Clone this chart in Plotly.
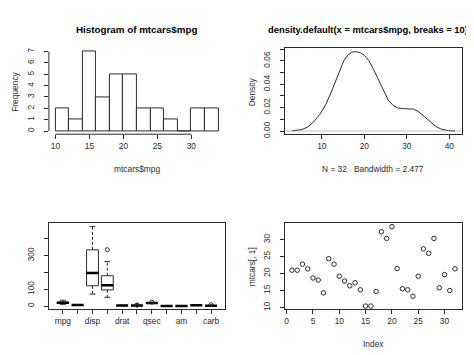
import numpy as np
import plotly.graph_objects as go

# ---- data: mtcars ----
mpg = [21.0, 21.0, 22.8, 21.4, 18.7, 18.1, 14.3, 24.4, 22.8, 19.2, 17.8, 16.4, 17.3, 15.2, 10.4, 10.4,
       14.7, 32.4, 30.4, 33.9, 21.5, 15.5, 15.2, 13.3, 19.2, 27.3, 26.0, 30.4, 15.8, 19.7, 15.0, 21.4]
cyl = [6, 6, 4, 6, 8, 6, 8, 4, 4, 6, 6, 8, 8, 8, 8, 8, 8, 4, 4, 4, 4, 8, 8, 8, 8, 4, 4, 4, 8, 6, 8, 4]
disp = [160, 160, 108, 258, 360, 225, 360, 146.7, 140.8, 167.6, 167.6, 275.8, 275.8, 275.8, 472, 460,
        440, 78.7, 75.7, 71.1, 120.1, 318, 304, 350, 400, 79, 120.3, 95.1, 351, 145, 301, 121]
hp = [110, 110, 93, 110, 175, 105, 245, 62, 95, 123, 123, 180, 180, 180, 205, 215, 230, 66, 52, 65,
      97, 150, 150, 245, 175, 66, 91, 113, 264, 175, 335, 109]
drat = [3.90, 3.90, 3.85, 3.08, 3.15, 2.76, 3.21, 3.69, 3.92, 3.92, 3.92, 3.07, 3.07, 3.07, 2.93, 3.00,
        3.23, 4.08, 4.93, 4.22, 3.70, 2.76, 3.15, 3.73, 3.08, 4.08, 4.43, 3.77, 4.22, 3.62, 3.54, 4.11]
wt = [2.620, 2.875, 2.320, 3.215, 3.440, 3.460, 3.570, 3.190, 3.150, 3.440, 3.440, 4.070, 3.730, 3.780,
      5.250, 5.424, 5.345, 2.200, 1.615, 1.835, 2.465, 3.520, 3.435, 3.840, 3.845, 1.935, 2.140, 1.513,
      3.170, 2.770, 3.570, 2.780]
qsec = [16.46, 17.02, 18.61, 19.44, 17.02, 20.22, 15.84, 20.00, 22.90, 18.30, 18.90, 17.40, 17.60, 18.00,
        17.98, 17.82, 17.42, 19.47, 18.52, 19.90, 20.01, 16.87, 17.30, 15.41, 17.05, 18.90, 16.70, 16.90,
        14.50, 15.50, 14.60, 18.60]
vs = [0, 0, 1, 1, 0, 1, 0, 1, 1, 1, 1, 0, 0, 0, 0, 0, 0, 1, 1, 1, 1, 0, 0, 0, 0, 1, 0, 1, 0, 0, 0, 1]
am = [1, 1, 1, 0, 0, 0, 0, 0, 0, 0, 0, 0, 0, 0, 0, 0, 0, 1, 1, 1, 0, 0, 0, 0, 0, 1, 1, 1, 1, 1, 1, 1]
gear = [4, 4, 4, 3, 3, 3, 3, 4, 4, 4, 4, 3, 3, 3, 3, 3, 3, 4, 4, 4, 3, 3, 3, 3, 3, 4, 5, 5, 5, 5, 5, 4]
carb = [4, 4, 1, 1, 2, 1, 4, 2, 2, 4, 4, 3, 3, 3, 4, 4, 4, 1, 2, 1, 1, 2, 2, 4, 2, 1, 2, 2, 4, 6, 8, 2]

col_names = ["mpg", "cyl", "disp", "hp", "drat", "wt", "qsec", "vs", "am", "gear", "carb"]
columns = [mpg, cyl, disp, hp, drat, wt, qsec, vs, am, gear, carb]

hist_breaks = [10, 12, 14, 16, 18, 20, 22, 24, 26, 28, 30, 32, 34]

hist_xticks = [10, 15, 20, 25, 30]
hist_yticks = [0, 1, 2, 3, 4, 5, 6, 7]
dens_xticks = [10, 20, 30, 40]
dens_yticks = [0.00, 0.01, 0.02, 0.03, 0.04, 0.05, 0.06, 0.07]
dens_ylabels = ["0.00", "", "0.02", "", "0.04", "", "0.06", ""]
box_yticks = [0, 100, 200, 300, 400]
box_ylabels = ["0", "100", "", "300", ""]
idx_xticks = [0, 5, 10, 15, 20, 25, 30]
idx_yticks = [10, 15, 20, 25, 30]

# ---- helpers ----
W, H = 474, 355
FONT = "Liberation Sans, Arial, sans-serif"
INK = "#2b2b2b"


def px(x):
    return x / W


def py(y):
    return 1 - y / H


def ext(lo, hi):
    d = (hi - lo) * 0.04
    return [lo - d, hi + d]


def fivenum(x):
    x = np.sort(np.asarray(x, float))
    n = len(x)
    n4 = np.floor((n + 3) / 2) / 2
    d = np.array([1, n4, (n + 1) / 2, n + 1 - n4, n]) - 1
    return 0.5 * (x[np.floor(d).astype(int)] + x[np.ceil(d).astype(int)])


mpg_a = np.array(mpg)

# histogram counts, right-closed intervals like R
br = np.array(hist_breaks, float)
bin_idx = np.clip(np.searchsorted(br, mpg_a, side="left") - 1, 0, len(br) - 2)
counts = np.bincount(bin_idx, minlength=len(br) - 1)
centers = (br[:-1] + br[1:]) / 2

# density (gaussian kernel, bw.nrd0)
n = len(mpg_a)
q75, q25 = np.percentile(mpg_a, [75, 25])
bw = 0.9 * min(mpg_a.std(ddof=1), (q75 - q25) / 1.34) * n ** -0.2
gx = np.linspace(mpg_a.min() - 3 * bw, mpg_a.max() + 3 * bw, 512)
gy = np.exp(-0.5 * ((gx[:, None] - mpg_a[None, :]) / bw) ** 2).sum(1) / (n * bw * np.sqrt(2 * np.pi))

# boxplot stats
bx, by_ = [], []
mx, my = [], []
wx, wy = [], []
sx, sy = [], []
ox, oy = [], []
for i, col in enumerate(columns, start=1):
    v = np.asarray(col, float)
    s = fivenum(v)
    iqr = s[3] - s[1]
    out = (v < s[1] - 1.5 * iqr) | (v > s[3] + 1.5 * iqr)
    lo, hi = v[~out].min(), v[~out].max()
    bx += [i - 0.4, i + 0.4, i + 0.4, i - 0.4, i - 0.4, None]
    by_ += [s[1], s[1], s[3], s[3], s[1], None]
    mx += [i - 0.4, i + 0.4, None]
    my += [s[2], s[2], None]
    wx += [i, i, None, i, i, None]
    wy += [s[3], hi, None, s[1], lo, None]
    sx += [i - 0.2, i + 0.2, None, i - 0.2, i + 0.2, None]
    sy += [hi, hi, None, lo, lo, None]
    ox += [i] * int(out.sum())
    oy += list(v[out])

all_vals = np.concatenate([np.asarray(c, float) for c in columns])

fig = go.Figure()

# panel 1: histogram
fig.add_trace(go.Bar(x=centers, y=counts, width=2, marker=dict(color="white", line=dict(color=INK, width=1)),
                     xaxis="x", yaxis="y", showlegend=False))
# panel 2: density
fig.add_trace(go.Scatter(x=gx, y=gy, mode="lines", line=dict(color=INK, width=1),
                         xaxis="x2", yaxis="y2", showlegend=False))
# panel 3: boxplot
fig.add_trace(go.Scatter(x=wx, y=wy, mode="lines", line=dict(color=INK, width=1, dash="3px,2px"),
                         xaxis="x3", yaxis="y3", showlegend=False))
fig.add_trace(go.Scatter(x=sx, y=sy, mode="lines", line=dict(color=INK, width=1),
                         xaxis="x3", yaxis="y3", showlegend=False))
fig.add_trace(go.Scatter(x=bx, y=by_, mode="lines", line=dict(color=INK, width=1),
                         xaxis="x3", yaxis="y3", showlegend=False))
fig.add_trace(go.Scatter(x=mx, y=my, mode="lines", line=dict(color="black", width=2.5),
                         xaxis="x3", yaxis="y3", showlegend=False))
fig.add_trace(go.Scatter(x=ox, y=oy, mode="markers",
                         marker=dict(symbol="circle-open", size=4, color=INK, line=dict(width=1)),
                         xaxis="x3", yaxis="y3", showlegend=False))
# panel 4: index plot
fig.add_trace(go.Scatter(x=np.arange(1, n + 1), y=mpg_a, mode="markers",
                         marker=dict(symbol="circle-open", size=4.5, color=INK, line=dict(width=1)),
                         xaxis="x4", yaxis="y4", showlegend=False))

xl, xr = [px(40), px(216.5)], [px(277), px(453.5)]
yt, yb = [py(127), py(40)], [py(304.5), py(217.5)]

tickfont = dict(family=FONT, size=8.4, color=INK)
base = dict(ticks="outside", ticklen=4, tickwidth=1, tickcolor=INK, showgrid=False, zeroline=False,
            tickfont=tickfont, fixedrange=True)
xbase = dict(base)
ybase = dict(base, ticklabelstandoff=7, tickangle=-90)
frame = dict(showline=True, linecolor=INK, linewidth=1, mirror=True)

dens_xr = ext(gx.min(), gx.max())
dens_yr = ext(0, gy.max())

fig.update_layout(
    width=W, height=H, margin=dict(l=0, r=0, t=0, b=0),
    paper_bgcolor="white", plot_bgcolor="white", bargap=0,
    xaxis=dict(domain=xl, anchor="y", range=ext(hist_breaks[0], hist_breaks[-1]),
               tickvals=hist_xticks, showline=False, **xbase),
    yaxis=dict(domain=yt, anchor="x", range=ext(0, max(counts)), tickvals=hist_yticks,
               showline=False, **ybase),
    xaxis2=dict(domain=xr, anchor="y2", range=dens_xr, tickvals=dens_xticks, **xbase, **frame),
    yaxis2=dict(domain=yt, anchor="x2", range=dens_yr, tickvals=dens_yticks, ticktext=dens_ylabels,
                **ybase, **frame),
    xaxis3=dict(domain=xl, anchor="y3", range=ext(0.5, len(columns) + 0.5),
                tickvals=list(range(1, len(columns) + 1)),
                ticktext=[c if k % 2 == 0 else "" for k, c in enumerate(col_names)], **xbase, **frame),
    yaxis3=dict(domain=yb, anchor="x3", range=ext(all_vals.min(), all_vals.max()), tickvals=box_yticks,
                ticktext=box_ylabels, **ybase, **frame),
    xaxis4=dict(domain=xr, anchor="y4", range=ext(1, n), tickvals=idx_xticks, **xbase, **frame),
    yaxis4=dict(domain=yb, anchor="x4", range=ext(mpg_a.min(), mpg_a.max()), tickvals=idx_yticks,
                **ybase, **frame),
)

# histogram axis lines spanning the tick range (as R's axis())
fig.add_shape(type="line", xref="x", yref="y domain", x0=hist_xticks[0], x1=hist_xticks[-1], y0=0, y1=0,
              line=dict(color=INK, width=1))
fig.add_shape(type="line", xref="x domain", yref="y", x0=0, x1=0, y0=hist_yticks[0], y1=hist_yticks[-1],
              line=dict(color=INK, width=1))
# density zero line
fig.add_shape(type="line", xref="x2 domain", yref="y2", x0=0, x1=1, y0=0, y1=0,
              line=dict(color="#9a9a9a", width=0.6))


def ann(text, x, y, size=8.4, bold=False, angle=0, xanchor="center"):
    fig.add_annotation(text=f"<b>{text}</b>" if bold else text, x=px(x), y=py(y), xref="paper", yref="paper",
                       showarrow=False, textangle=angle, xanchor=xanchor, yanchor="middle",
                       font=dict(family=FONT, size=size, color="black" if bold else INK))


ann("Histogram of mtcars$mpg", 128.25, 21, size=9.8, bold=True)
ann("density.default(x = mtcars$mpg, breaks = 10)", 258, 21, size=9.4, bold=True, xanchor="left")
ann("mtcars$mpg", 128.25, 162)
ann("Frequency", 6.5, 83.5, angle=-90)
ann(f"N = {n}   Bandwidth = {bw:.3f}", 365.25, 162)
ann("Density", 243.5, 83.5, angle=-90)
ann("Index", 365.25, 339.5)
ann("mtcars[, 1]", 243.5, 261, angle=-90)

fig.write_html("out.html")
